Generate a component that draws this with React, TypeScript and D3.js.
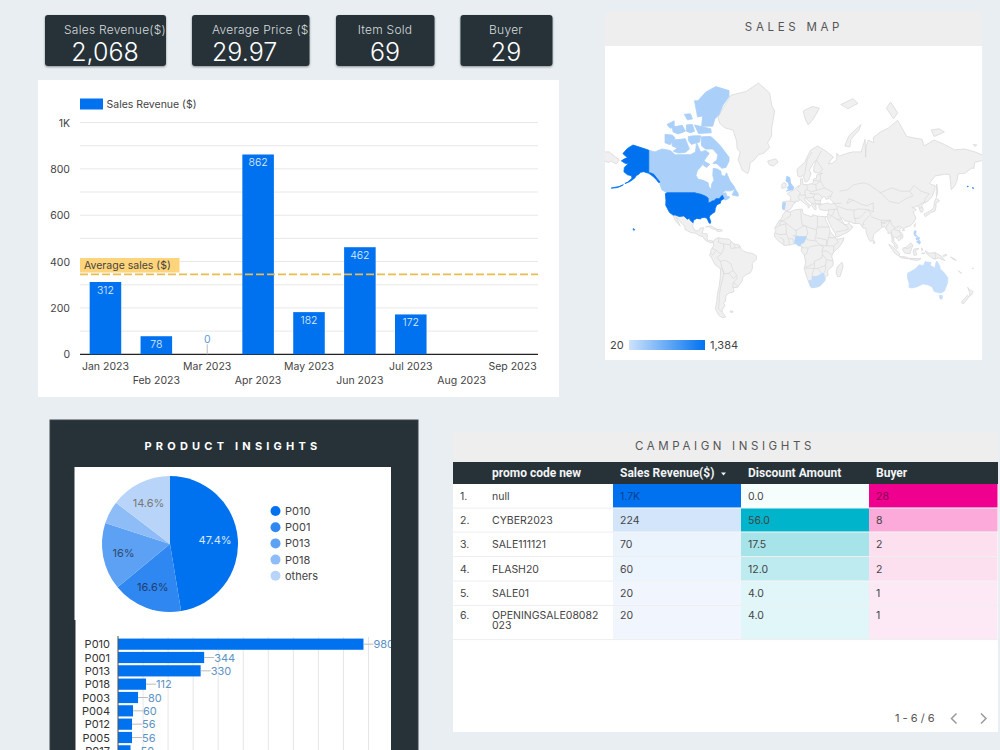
// Sales dashboard: KPI cards, monthly revenue, sales map, product insights, campaign table
import React from 'react';
import * as d3 from 'd3';

type LonLat = [number, number];

const FONT = 'Inter, "Noto Sans", sans-serif';
const BLUE = '#0072f0';
const DARK = '#263238';
const PAGE = '#e9eef2';

// KPI cards
const kpiTitles = ['Sales Revenue($)', 'Average Price ($)', 'Item Sold', 'Buyer'];
const kpiValues = ['2,068', '29.97', '69', '29'];

// monthly revenue
const months = ['Jan 2023', 'Feb 2023', 'Mar 2023', 'Apr 2023', 'May 2023', 'Jun 2023', 'Jul 2023', 'Aug 2023', 'Sep 2023'];
const monthRevenue: (number | null)[] = [312, 78, 0, 862, 182, 462, 172, null, null];
const averageSales = 344.67;

// products
const products = ['P010', 'P001', 'P013', 'P018', 'P003', 'P004', 'P012', 'P005', 'P017'];
const productRevenue = [980, 344, 330, 112, 80, 60, 56, 56, 50];
const pieLabels = ['P010', 'P001', 'P013', 'P018', 'others'];
const pieValues = [980, 344, 330, 112, 302];
const pieColors = ['#0072f0', '#2f87f1', '#5ca1f4', '#8dbcf7', '#b8d5f9'];

// campaign table
const promoCodes = ['null', 'CYBER2023', 'SALE111121', 'FLASH20', 'SALE01', 'OPENINGSALE08082023'];
const promoRevenue = [1674, 224, 70, 60, 20, 20];
const promoRevenueText = ['1.7K', '224', '70', '60', '20', '20'];
const promoDiscount = [0, 56, 17.5, 12, 4, 4];
const promoBuyers = [28, 8, 2, 2, 1, 1];

// map values per country
const countryRevenue: Record<string, number> = {
  usa: 1384, canada: 250, uk: 250, portugal: 200, nigeria: 170, southAfrica: 90, philippines: 200, australia: 70,
};

// map outlines, lon/lat
const alaska: LonLat[] = [[-141, 69.6], [-148, 70.4], [-156.5, 71.3], [-162, 70.2], [-166.5, 68.4], [-162, 66.8], [-165, 66.4], [-168, 65.6], [-164, 64.5], [-161, 64.6], [-165, 62.8], [-165.5, 60.8], [-162, 59.3], [-158, 58.8], [-157.5, 57.5], [-162, 55.3], [-164.5, 54.6], [-160, 55.6], [-155, 57.5], [-153, 59], [-151.5, 59.3], [-149, 60.5], [-146, 60.8], [-141, 60], [-137, 58.6], [-134, 57], [-131, 55], [-130, 55.5], [-133, 57.5], [-136, 59.5], [-139, 60.2], [-141, 60.3]];
const aleutians: LonLat[] = [[-178, 51.9], [-170, 52.9], [-166, 53.9], [-168, 53.2], [-172, 52.2]];
const attu: LonLat[] = [[172.5, 53], [173.6, 52.9], [173, 52.6]];
const kiska: LonLat[] = [[177.8, 52.2], [178.8, 51.9], [178, 51.7]];
const us48: LonLat[] = [[-124.7, 48.4], [-123, 49], [-95.2, 49], [-94.6, 48.7], [-89.6, 48], [-84.5, 46.5], [-82.5, 45.3], [-82.5, 42.8], [-83, 42], [-79, 42.8], [-79, 43.3], [-76.5, 43.6], [-75, 45], [-71.5, 45], [-70, 46.5], [-68.5, 47.3], [-67, 45], [-70, 43.7], [-70.5, 41.8], [-74, 40.6], [-75.5, 38], [-76, 35], [-78, 33.9], [-81, 32], [-81.4, 30.5], [-80, 26.8], [-80.5, 25.2], [-81.8, 26], [-82.8, 28], [-84, 30], [-86, 30.4], [-89, 30.3], [-90, 29.2], [-93.8, 29.7], [-97, 28], [-97.3, 26], [-99.5, 27.5], [-101.4, 29.8], [-103, 29], [-106.5, 31.8], [-111, 31.3], [-114.8, 32.5], [-117.1, 32.5], [-120.5, 34.5], [-122.5, 37.5], [-124.3, 40.3], [-124.1, 44]];
const hawaii: LonLat[] = [[-156.3, 20.6], [-154.9, 19.8], [-155.6, 18.9], [-156.2, 19.6]];
const canadaMain: LonLat[] = [[-141, 69.6], [-135, 69], [-128, 70], [-120, 69.5], [-115, 68], [-108, 68], [-100, 68], [-95, 69], [-94, 72], [-90, 69], [-85, 69.5], [-81.5, 68.5], [-86, 66], [-88, 64], [-93, 61.5], [-94.5, 59], [-92.5, 57], [-88, 56.5], [-82.5, 55], [-82, 52.9], [-79.5, 51.3], [-79, 54.5], [-76.8, 56.5], [-78, 59], [-77.5, 62.4], [-73, 62], [-70, 61], [-69.5, 59], [-66, 58.5], [-64.5, 60.3], [-61, 56], [-57, 53], [-56, 51.5], [-60, 50.2], [-66, 50.2], [-69, 48.5], [-65, 49], [-64.5, 47], [-61, 46], [-64, 44.5], [-66, 44], [-67, 45], [-68.5, 47.3], [-70, 46.5], [-71.5, 45], [-75, 45], [-76.5, 43.6], [-79, 43.3], [-79, 42.8], [-83, 42], [-82.5, 45.3], [-84.5, 46.5], [-89.6, 48], [-94.6, 48.7], [-95.2, 49], [-123, 49], [-128, 50.8], [-130, 54], [-130, 55.5], [-133, 57.5], [-136, 59.5], [-139, 60.2], [-141, 60.3]];
const baffin: LonLat[] = [[-80, 73.8], [-76, 72.8], [-71, 71.2], [-67, 69.5], [-62, 67], [-62, 65.5], [-65, 62.8], [-69, 62.4], [-74, 64.4], [-78, 64.6], [-74, 66], [-73, 68], [-78, 70], [-85, 70], [-89, 71], [-89.5, 73.7], [-85, 73.8]];
const victoria: LonLat[] = [[-118, 72.8], [-110, 73], [-105, 73.2], [-101, 70], [-105, 68.8], [-112, 68.6], [-117, 69.2], [-113, 70.3], [-118, 71]];
const banks: LonLat[] = [[-125, 74.4], [-118, 74.2], [-115, 73.4], [-120, 71.4], [-125, 72]];
const melville: LonLat[] = [[-118, 76.2], [-108, 76.6], [-105, 75.2], [-112, 74.5], [-117, 75]];
const princePatrick: LonLat[] = [[-123, 76.8], [-116, 77.6], [-116, 76.3], [-120, 75.9]];
const bathurst: LonLat[] = [[-104, 76.7], [-98, 76.8], [-96, 75.2], [-100, 74.8], [-104, 75.2]];
const princeOfWales: LonLat[] = [[-102, 73.8], [-97, 74], [-90, 74], [-91, 72.2], [-96, 71.8], [-99, 71.5], [-102, 72.6]];
const devon: LonLat[] = [[-96, 76.7], [-80, 75.8], [-79.5, 74.8], [-92, 74.6]];
const ellesmere: LonLat[] = [[-92, 81.3], [-85, 82.4], [-75, 83.1], [-62, 82.6], [-62, 81.8], [-68, 80.5], [-72, 78.8], [-76, 78], [-78, 76.4], [-89, 76.4], [-88, 78.5]];
const axelHeiberg: LonLat[] = [[-96, 81.2], [-90.5, 81.2], [-87.5, 80], [-88, 78.6], [-93, 78.4]];
const ringnes: LonLat[] = [[-106, 78.9], [-100, 79], [-98, 78], [-103, 77.8]];
const southampton: LonLat[] = [[-87, 65.5], [-81, 64.2], [-84, 62.8], [-87, 63.6]];
const newfoundland: LonLat[] = [[-59, 47.6], [-53, 46.7], [-53, 48.5], [-56, 51.5]];
const greenland: LonLat[] = [[-73, 78.3], [-68, 80], [-60, 82], [-45, 82.5], [-33, 83.5], [-22, 82.3], [-20, 80.5], [-17, 79.5], [-20, 76], [-20, 74], [-24, 72], [-22, 70.5], [-28, 68.5], [-33, 68], [-38, 65.6], [-41, 65], [-42, 62], [-43.5, 59.9], [-46, 60.6], [-49, 61.5], [-51, 64], [-53, 66], [-51, 69], [-54, 70], [-54.5, 72.5], [-58, 75.5], [-66, 76], [-71, 77]];
const iceland: LonLat[] = [[-24, 65.5], [-20, 66], [-16, 66.4], [-13.7, 65], [-18.5, 63.4], [-22.5, 64]];
const mexicoCentral: LonLat[] = [[-117.1, 32.5], [-114.8, 32.5], [-111, 31.3], [-106.5, 31.8], [-103, 29], [-101.4, 29.8], [-99.5, 27.5], [-97.3, 26], [-97.8, 22.5], [-95.5, 18.8], [-92, 18.6], [-90.5, 21], [-87, 21.5], [-88, 18], [-88.5, 15.9], [-84, 15.9], [-83.3, 14.8], [-83.7, 11], [-82.5, 9], [-80, 9.2], [-77.5, 8.5], [-78, 7.3], [-80.5, 7.3], [-83, 8.3], [-85.8, 10], [-87.5, 13], [-91.5, 14], [-94.5, 16.2], [-100, 17], [-105.5, 20], [-105.5, 22.5], [-109, 25.8], [-112.5, 29.5], [-114.5, 31.5], [-112, 26.5], [-110, 23], [-112, 24.8], [-115, 28]];
const cuba: LonLat[] = [[-85, 22], [-80, 23.2], [-74.2, 20.2], [-77.5, 19.9], [-82, 22.5]];
const hispaniola: LonLat[] = [[-74.4, 19.8], [-70, 19.8], [-68.4, 18.6], [-71.5, 17.8], [-74.4, 18.4]];
const southAmerica: LonLat[] = [[-77.5, 8.5], [-75.5, 10.8], [-72, 12], [-68, 11], [-62, 10.7], [-60, 8.5], [-57, 6], [-52, 5], [-50, 1], [-48, -1], [-44, -2.7], [-40, -3], [-35.2, -5.5], [-35, -9], [-39, -13], [-39, -17.8], [-41, -22], [-44.5, -23.2], [-48.5, -26], [-48.7, -28.5], [-52.5, -33], [-54, -34.8], [-57.5, -34.5], [-58.5, -34], [-57, -36.5], [-57.5, -38.2], [-62, -39], [-65, -41], [-65.5, -45], [-67.5, -46.5], [-65.8, -47.5], [-69, -51], [-68.3, -52.5], [-65, -54.8], [-68.5, -55.3], [-72, -54], [-75.5, -50], [-74, -45], [-73.5, -40], [-71.5, -33], [-70.5, -25], [-70.3, -18.3], [-76, -14], [-79, -8], [-81.2, -5], [-80, -2.5], [-80, 0.5], [-78.8, 1.5], [-77.3, 4]];
const falklands: LonLat[] = [[-61, -51.4], [-58, -51.4], [-58.5, -52.2], [-60.5, -52.2]];
const africa: LonLat[] = [[-6, 35.8], [-2, 35], [3, 36.8], [10, 37.3], [11, 33.5], [15, 32.3], [20, 31], [20, 32.8], [25, 31.7], [32, 31.2], [34.2, 31.3], [32.5, 30], [33.8, 27], [35.5, 24], [37, 21], [37.5, 18], [39.5, 15.5], [43, 12], [44, 10.5], [51.2, 11.8], [50, 8], [46, 2.5], [41, -2], [39, -6], [40.5, -11], [40.5, -15], [35, -20], [35.5, -24], [32.8, -26], [32, -29], [28, -33], [25, -34], [20, -34.8], [18.3, -34], [15, -27], [12, -18], [13.5, -12], [12, -5], [9, -1], [9.5, 3.5], [6, 4.3], [4, 6.3], [-2, 5], [-7.5, 4.4], [-13, 8.5], [-16.7, 12.5], [-17.4, 14.7], [-16, 19], [-17, 21], [-13, 27.5], [-10, 30], [-9, 33]];
const nigeria: LonLat[] = [[2.7, 6.4], [4, 6.3], [6, 4.3], [8.5, 4.6], [9, 6.5], [11.5, 7], [13.5, 11], [14, 13], [10, 13.2], [7, 13], [4, 13.7], [3.6, 11.7], [2.7, 9]];
const southAfrica: LonLat[] = [[17, -28.7], [20, -28.4], [20, -25], [23, -25.3], [26, -24.6], [29.4, -22.3], [31.3, -22.4], [32, -26], [32.8, -26.9], [32, -29], [28, -33], [25, -34], [20, -34.8], [18.3, -34], [16.5, -28.6]];
const madagascar: LonLat[] = [[49.3, -12], [50.4, -15.5], [47.5, -25], [45, -25.5], [43.4, -22], [44.5, -16.5]];
const eurasia: LonLat[] = [[-9, 43], [-9.5, 38.7], [-8.9, 37], [-6, 36.2], [-5.3, 36], [-2, 36.8], [0, 38.8], [0.5, 40.5], [3.2, 42], [3, 43.2], [6, 43.1], [8, 44.3], [10.3, 43], [12.5, 41.5], [15.8, 40], [16, 38], [17, 39], [18.4, 40], [16, 41.5], [13, 43.7], [12.3, 45.4], [13.7, 45.6], [15.5, 43.8], [19.3, 41.8], [19.5, 40.3], [21, 38.3], [23, 36.5], [24, 38], [22.8, 40.3], [26, 40.8], [28.9, 41], [27.8, 42.5], [28.6, 44.5], [30.8, 46.5], [33, 46], [33.5, 44.5], [36.5, 45.2], [35, 46.2], [38.5, 47], [37, 45], [39, 43.7], [41.5, 41.6], [38, 41], [35, 42], [31.5, 41.2], [29.1, 41], [26.5, 40], [26.5, 38.5], [27.5, 37], [30.5, 36.5], [33, 36], [36, 36.7], [35.8, 34.5], [34.5, 31.5], [34.9, 29.5], [36, 27.5], [39, 21.5], [42.5, 16.5], [43.3, 12.8], [45, 12.8], [52, 16], [55, 17.5], [58.8, 20.5], [59.8, 22.5], [56.5, 24.5], [56.3, 26.2], [54, 24.2], [51.5, 24.5], [50.2, 26.5], [48, 29.8], [50, 30], [52, 27.5], [56.5, 27], [61, 25.2], [66.5, 25.3], [68, 23.7], [70, 21], [72.7, 21], [73, 17], [74.5, 13], [76.3, 9.5], [77.5, 8], [79.8, 10.3], [80.3, 15], [82.5, 17], [86.5, 20], [88.5, 21.8], [91, 22.5], [92.3, 20.8], [94.3, 18], [94.5, 16], [97, 16.8], [98.5, 12], [98.3, 8], [100.5, 5.5], [101.3, 3], [103.5, 1.3], [104.2, 2.5], [103, 5.5], [100.5, 8], [100, 13], [101, 13], [102.5, 12], [105, 10], [105, 8.8], [106.7, 10.5], [109.2, 12], [109, 15], [106.5, 18], [105.8, 19.5], [108, 21.5], [110, 20.4], [110.5, 21.3], [114, 22.3], [117, 23.5], [120, 26.5], [122, 30], [120.5, 33], [119.3, 35], [122.5, 37], [118, 38.5], [121.5, 39], [124.3, 40], [125.2, 38], [126.5, 35], [128.5, 35], [129.4, 37], [127.5, 39.8], [130.5, 42.3], [133, 42.8], [138, 46.5], [140.5, 51], [141, 53.3], [137.5, 54], [135.3, 54.8], [141, 58.7], [150, 59.5], [155, 59.5], [155.8, 57], [156.7, 51], [160, 53], [162.5, 56.2], [163.3, 59.8], [170, 60], [177, 62.5], [179, 62.3], [180, 65], [190, 66], [190, 67.5], [180, 69], [170, 70], [160, 69.7], [150, 71.5], [140, 72.8], [130, 71], [128, 73], [113, 73.8], [104, 77.7], [95, 76], [87, 75], [80, 73.5], [80.5, 72], [75, 72.8], [73, 71], [72.5, 67], [72, 73], [68, 69], [60, 69], [54, 68.5], [47, 67.5], [44, 68.5], [44, 66], [40, 64.7], [36, 64.3], [38, 66], [41, 67], [33, 69.4], [25, 71], [18, 69.5], [12.5, 65], [5, 62], [5.5, 58.8], [8, 58], [11, 59], [12.8, 55.5], [14.3, 55.5], [16.5, 56.5], [18.8, 60], [17, 61.5], [21.5, 65], [24, 65.8], [21.5, 63], [21.5, 60.7], [25, 60.2], [30, 60], [24.5, 59.3], [24, 57.5], [21, 57], [21, 55.3], [19, 54.4], [14.2, 54], [11, 54], [10, 57.5], [8.2, 57], [8.7, 54], [4.5, 52.5], [1.8, 50.9], [-1.5, 49.7], [-4.7, 48.5], [-1.2, 46], [-1.7, 43.4]];
const chukotkaWest: LonLat[] = [[-186, 69], [-180, 69], [-175, 67.5], [-170, 66], [-173, 64.3], [-178, 65.5], [-180, 65], [-186, 65.5]];
const portugal: LonLat[] = [[-8.8, 42], [-6.3, 42], [-6.9, 39.5], [-7.4, 37.2], [-8.9, 37], [-9.5, 38.7]];
const britain: LonLat[] = [[-5, 58.6], [-2, 57.7], [-1.5, 55], [0.3, 53.5], [1.7, 52.5], [1, 51], [-5.5, 50], [-3, 51.5], [-5, 52], [-3, 53.4], [-3.5, 55], [-6, 56]];
const ireland: LonLat[] = [[-8, 55.2], [-5.6, 54.5], [-6.2, 52.2], [-10, 51.7], [-10, 54]];
const svalbard: LonLat[] = [[11, 79.5], [20, 80.3], [27, 80], [21, 78], [16, 76.7], [13, 78]];
const franzJosef: LonLat[] = [[48, 80.6], [60, 81.5], [65, 80.8], [55, 79.9]];
const novayaZemlya: LonLat[] = [[52, 71], [56, 74], [68, 76.8], [66, 75.5], [58, 73], [57, 70.7]];
const severnaya: LonLat[] = [[93, 80], [97, 81], [104, 79.2], [100, 78]];
const newSiberian: LonLat[] = [[137, 75.5], [145, 75.8], [150, 75], [140, 73.8]];
const wrangel: LonLat[] = [[178.5, 71.5], [182, 71.3], [180, 70.8]];
const japan: LonLat[] = [[141.8, 45.4], [145.3, 43.5], [141.5, 41.5], [141.9, 39.5], [140.8, 35.7], [136.8, 34.5], [135.5, 33.6], [131, 31.2], [130, 33.4], [135.5, 35.6], [139.5, 38.2], [140, 41], [140.5, 43]];
const sakhalin: LonLat[] = [[142.5, 54.3], [143.5, 49.5], [142.2, 46], [142, 50]];
const taiwan: LonLat[] = [[121.5, 25.2], [121, 22], [120.1, 23.5]];
const hainan: LonLat[] = [[110.5, 20], [110.7, 18.8], [108.8, 18.5], [108.8, 19.5]];
const sriLanka: LonLat[] = [[80, 9.7], [81.8, 7.5], [80.5, 6], [79.8, 7.5]];
const sumatra: LonLat[] = [[95.3, 5.6], [98, 4], [103.8, -1], [106, -3.5], [105.5, -5.8], [102, -4], [98.5, 0.5]];
const java: LonLat[] = [[105.5, -6.5], [110.5, -6.5], [114.4, -7.8], [114.4, -8.7], [108, -7.8]];
const lesserSunda: LonLat[] = [[115, -8.2], [119, -8.3], [123, -8.3], [125, -8.6], [127, -8.4], [124, -10.2], [120, -9.8], [116, -9]];
const borneo: LonLat[] = [[109, 1.5], [113, 3.2], [116.8, 7], [119, 5], [117.6, 1], [116, -3.8], [111, -3], [109.2, -0.5]];
const sulawesi: LonLat[] = [[120, 1], [125, 1.5], [121.5, -0.8], [123, -4.5], [120.3, -5.5], [119.3, -2]];
const halmahera: LonLat[] = [[127.5, 2], [128.8, 1], [128, -0.8], [127.4, 0.5]];
const ceram: LonLat[] = [[127.5, -3.1], [130.8, -3], [129.5, -3.6], [127.8, -3.6]];
const newGuinea: LonLat[] = [[131, -0.8], [135, -3.2], [141, -2.6], [147, -6], [150.5, -10.4], [144, -7.8], [141, -9], [138, -8], [133, -4]];
const newBritain: LonLat[] = [[148.5, -5.6], [152, -4.2], [152, -5.5], [149, -6.3]];
const solomons: LonLat[] = [[156, -6.8], [160, -8.6], [161.5, -10.2], [159, -9.3]];
const newCaledonia: LonLat[] = [[164, -20], [167, -22.3], [166, -22.2]];
const fiji: LonLat[] = [[177.3, -17.5], [178.6, -17.7], [178, -18.3]];
const luzon: LonLat[] = [[120.6, 18.5], [122.2, 18.4], [121.7, 15], [124, 13], [121, 13.7], [120, 16]];
const mindanao: LonLat[] = [[122.5, 8], [125.4, 9.6], [126.5, 7.5], [125.5, 5.7], [123.5, 7.4]];
const visayas: LonLat[] = [[122, 11.7], [125.5, 12.4], [125, 10.2], [122.8, 9.7]];
const australia: LonLat[] = [[114, -22], [113.5, -26], [115.5, -31.5], [115, -34.3], [118, -35], [123.5, -33.9], [129, -31.6], [134, -32.5], [138, -34], [140, -37.8], [146.5, -39], [150, -37.5], [153, -31], [153.5, -26.5], [149, -21], [146, -18.5], [145.2, -15], [142.5, -10.8], [141.5, -13], [140.8, -17.5], [136, -15], [136.8, -12.2], [131, -11.5], [129.5, -15], [125, -14.5], [122, -18], [117, -20.7]];
const tasmania: LonLat[] = [[144.8, -40.8], [148.2, -40.9], [147.8, -43.3], [146, -43.5]];
const nzNorth: LonLat[] = [[173, -34.5], [175.5, -36.8], [178.4, -37.8], [176.5, -40.5], [175, -41.5], [174.8, -38.5]];
const nzSouth: LonLat[] = [[172.7, -40.6], [174.2, -41.7], [171, -45], [169, -46.7], [166.5, -45.9], [170, -43]];

const grayLand: LonLat[][] = [greenland, iceland, mexicoCentral, cuba, hispaniola, southAmerica, falklands, africa, madagascar, eurasia, chukotkaWest, ireland, svalbard, franzJosef, novayaZemlya, severnaya, newSiberian, wrangel, japan, sakhalin, taiwan, hainan, sriLanka, sumatra, java, lesserSunda, borneo, sulawesi, halmahera, ceram, newGuinea, newBritain, solomons, newCaledonia, fiji, nzNorth, nzSouth];
const soldLand: [string, LonLat[]][] = [
  ['canada', canadaMain], ['canada', baffin], ['canada', victoria], ['canada', banks], ['canada', melville], ['canada', princePatrick], ['canada', bathurst], ['canada', princeOfWales], ['canada', devon], ['canada', ellesmere], ['canada', axelHeiberg], ['canada', ringnes], ['canada', southampton], ['canada', newfoundland],
  ['usa', alaska], ['usa', aleutians], ['usa', attu], ['usa', kiska], ['usa', us48], ['usa', hawaii], ['uk', britain], ['portugal', portugal], ['nigeria', nigeria], ['southAfrica', southAfrica],
  ['philippines', luzon], ['philippines', visayas], ['philippines', mindanao], ['australia', australia], ['australia', tasmania],
];
// country borders inside the gray land
const borders: LonLat[][] = [
  // South America
  [[-72, 12], [-72.5, 7.5], [-67.5, 6], [-67, 1.5], [-70, -4.2]], [[-67.5, 6], [-61, 5], [-60, 8.5]], [[-61, 5], [-60, 1.5], [-56, 2], [-52, 2.3], [-51.5, 4.2]], [[-57, 6], [-56, 2]], [[-78.8, 1.5], [-75, 0], [-70, -4.2], [-74, -7.5], [-70.5, -11], [-69, -17]], [[-80, -3.4], [-78, -5], [-75, -1]],
  [[-70.5, -11], [-65.5, -10], [-60, -13.5], [-58, -19.8], [-62, -22.2], [-67, -22.8], [-69, -17], [-70.3, -18.3]], [[-58, -19.8], [-54.5, -24], [-57.5, -27.3], [-62, -22.2]], [[-54.5, -24], [-54, -27], [-57.5, -30.2], [-58.5, -34]], [[-53.5, -33.7], [-57.5, -30.2]], [[-69, -17.5], [-67, -22.8], [-70, -33], [-71.5, -40], [-71.8, -46], [-72.5, -50], [-69, -52]],
  // Africa
  [[-1.7, 35], [-1.3, 32], [-8.7, 27.7], [-13, 27.7]], [[-8.7, 27.7], [3, 19], [4.2, 19]], [[-8.7, 27.7], [-12, 26], [-12, 23.5], [-17, 21]], [[-12, 23.5], [-6, 25], [-5.5, 15.5], [-12, 15], [-16.5, 16.3]], [[8.5, 36.9], [9, 30], [10, 24], [14, 22.5], [24, 19.5], [25, 22], [25, 31.7]], [[3, 19], [4.2, 19], [12, 23.5], [14, 22.5], [15.5, 16.5], [14, 13]], [[4, 13.7], [4.2, 19]], [[25, 22], [36.8, 22]], [[24, 19.5], [24, 15.5], [22.5, 11], [24, 8.7], [15, 10], [14, 13]], [[24, 8.7], [27.5, 5], [34, 4], [36, 12], [37.5, 18]], [[24, 12], [34, 10], [34, 4]], [[34, 4], [41, 4], [41, -2]], [[41, 4], [46, 8], [43, 10.5]], [[36, 12], [43, 12]],
  [[-5.5, 15.5], [-3, 10], [-2.7, 5]], [[-12, 12.5], [-8, 10], [-8, 4.5]], [[-3, 11], [1, 11], [1.5, 6.2]], [[3.6, 11.7], [1, 14.5], [4, 13.7]], [[9.5, 3.5], [9.5, 2.2], [16, 2], [18.5, 3.5], [27.5, 5]], [[16, 2], [14, -4.5], [12, -5]], [[29.5, -1], [30, -4.5], [29, -8], [22, -11], [22, -13], [13.5, -17]], [[29.5, -1], [31, 3], [27.5, 5]], [[34, -1], [30, -1]], [[39, -4.7], [34, -1]], [[30, -4.5], [34, -9.5], [40.5, -10.8]], [[22, -13], [22, -18], [25, -17.8], [33, -15], [34, -9.5]], [[25, -17.8], [29.4, -22.3]], [[12, -17.3], [22, -18], [20, -22], [20, -28.4]], [[33, -15], [33, -19], [31.3, -22.4]],
  // Europe
  [[-1.7, 43.4], [3.2, 42.4]], [[-6.3, 42], [-9, 42]], [[4.5, 51.3], [8, 49], [7.5, 47.5], [6, 46], [7.5, 44]], [[7.5, 47.5], [13, 47.5], [13.7, 45.6]], [[6.5, 51.8], [7, 53.5]], [[14.5, 54], [15, 51], [12.5, 50.3], [13, 47.5]], [[15, 51], [19, 49.5], [24, 50.5], [23.5, 54], [19, 54.4]], [[16.9, 48.6], [22.5, 48.2], [26.5, 48.3], [30, 46]], [[22.5, 48.2], [21, 46], [22.5, 44], [28.6, 43.7]], [[13.7, 45.6], [18, 46], [21, 46]], [[22.5, 44], [22.5, 41.2], [26.5, 41.5]], [[19.3, 41.8], [22.5, 41.2]], [[24, 50.5], [32, 52], [40, 49.5], [38.5, 47]], [[23.5, 54], [28, 56], [28, 59.5]], [[32, 52], [28, 56]], [[21, 56.3], [28, 56]], [[12, 59], [13, 61], [15, 66], [20, 69]], [[24, 65.8], [29, 69.5]], [[24, 66], [30, 62], [28, 60.5]],
  // Middle East, Asia
  [[26.5, 41.5], [28, 41.3]], [[36, 36.7], [42, 37.2], [44.5, 37.5], [44, 39.5], [41.5, 41.6]], [[48.5, 41.7], [41.5, 41.6]], [[42, 37.2], [41, 34.5], [39, 32], [36, 33]], [[44.5, 37.5], [46, 33], [48, 30]], [[36.5, 29.5], [39, 32], [44, 29], [48, 29]], [[44, 29], [55, 22], [55.5, 20], [52, 19], [43.5, 17.5]], [[44.5, 39.5], [48.5, 38.5], [54, 37], [61, 36.5], [61, 31.5], [63, 27], [61.5, 25]], [[61, 36.5], [66, 37.5], [74.5, 37], [70, 33], [66.5, 30], [61, 29.5]], [[74.5, 37], [78, 33], [74, 30], [70, 26], [71, 24], [68, 23.7]], [[54, 41.5], [60, 44], [68, 41], [74, 40], [80, 42]], [[47, 50], [55, 51], [61, 54], [71, 55], [76, 54], [87, 49]], [[54, 41.5], [56, 45], [60, 44]], [[87, 49], [98, 52], [107, 50], [116, 50], [120, 53.5], [127, 50], [135, 48.3], [131, 45], [130.5, 42.3]], [[87, 49], [96, 43], [105, 41.7], [112, 45], [119, 47], [116, 50]], [[80, 42], [80, 35], [74.5, 37]], [[78, 31], [88, 28], [97, 28], [98, 24], [101.5, 21.5], [106, 23], [108, 21.5]], [[88, 28], [88, 26], [92, 26.5], [97, 28]], [[88.5, 21.8], [88, 26], [92, 25]], [[92.3, 20.8], [94, 24], [97, 28]], [[101.5, 21.5], [100, 20], [97.5, 18], [98.5, 15], [98.5, 12]], [[100, 20], [105, 18.5], [107.5, 15], [107, 11]], [[102.5, 12], [107, 14.5]], [[124.3, 40], [128, 42], [130.5, 42.3]], [[125, 38], [128.5, 38.4]], [[141, -2.6], [141, -9]], [[109.8, 2], [114, 1.5], [117.5, 4.2]],
];

const project = ([lon, lat]: LonLat): LonLat => {
  const [mx, my] = d3.geoMercatorRaw((lon * Math.PI) / 180, (lat * Math.PI) / 180);
  return [792 + 58.2 * mx, 250 - 58.2 * my];
};
const geoLine = d3.line<LonLat>().x(d => project(d)[0]).y(d => project(d)[1]);
const ringPath = (ring: LonLat[]) => `${geoLine(ring)}Z`;

const mapColor = d3.scaleLinear<string>().domain([20, 1384]).range(['#cde2fb', BLUE]);
const revenueColor = d3.scaleLinear<string>().domain([20, 70, 224, 1674]).range(['#f1f6fe', '#ebf3fd', '#d3e5fb', BLUE]);
const discountColor = d3.scaleLinear<string>().domain([0, 4, 12, 17.5, 56]).range(['#f5fdfd', '#e0f6f9', '#bdebf0', '#a7e4ea', '#00b4cb']);
const buyerColor = d3.scaleLinear<string>().domain([1, 2, 8, 28]).range(['#fce9f5', '#fce0f0', '#fbaad9', '#f0008f']);

const Cards = () => {
  const left = [45, 192, 336, 460.5];
  const right = [166, 309.5, 434.5, 552.5];
  const titleX = [115, 212, 385, 506];
  const valueX = [105, 212, 385, 506];
  return (
    <g fontFamily={FONT}>
      {kpiTitles.map((title, i) => {
        const anchor = i === 1 ? 'start' : 'middle';
        return (
          <g key={title}>
            <clipPath id={`card-${i}`}><rect x={left[i]} y={15} width={right[i] - left[i]} height={51} /></clipPath>
            <rect x={left[i]} y={15} width={right[i] - left[i]} height={51} rx={3} fill={DARK} filter="url(#cardShadow)" />
            <g clipPath={`url(#card-${i})`}>
              <text x={titleX[i]} y={34} fontSize={12} fontWeight={300} letterSpacing={0.25} fill="#d5dadc" textAnchor={anchor}>{title}</text>
              <text x={valueX[i]} y={61} fontSize={25} fontWeight={300} fill="#fff" textAnchor={anchor}>{kpiValues[i]}</text>
            </g>
          </g>
        );
      })}
    </g>
  );
};

const RevenueChart = () => {
  const x = d3.scaleBand<string>().domain(months).range([80, 538]).paddingInner(0.38).paddingOuter(0.19);
  const y = d3.scaleLinear().domain([0, 1000]).range([354.3, 122.5]);
  return (
    <g fontFamily={FONT} fontSize={10.5}>
      <rect x={38} y={80} width={521} height={317} fill="#fff" />
      <rect x={80} y={98.5} width={23} height={11} fill={BLUE} />
      <text x={106.5} y={108} fill="#444">Sales Revenue ($)</text>
      {d3.range(0, 1001, 100).map(t => (
        <line key={t} x1={80} x2={538} y1={y(t)} y2={y(t)} stroke={t === 0 ? '#222' : '#e8e8e8'} strokeWidth={t === 0 ? 1.2 : 1} />
      ))}
      {d3.range(0, 1001, 200).map(t => (
        <text key={t} x={70} y={y(t) + 4} textAnchor="end" fill="#444">{t === 1000 ? '1K' : t}</text>
      ))}
      {months.map((m, i) => {
        const v = monthRevenue[i];
        const cx = x(m)! + x.bandwidth() / 2;
        return (
          <g key={m}>
            {v !== null && v > 0 && (
              <>
                <rect x={x(m)} y={y(v)} width={x.bandwidth()} height={y(0) - y(v)} fill={BLUE} />
                <text x={cx} y={y(v) + 12} textAnchor="middle" fontWeight={300} fill="#e3effd">{v}</text>
              </>
            )}
            {v === 0 && (
              <>
                <line x1={cx} x2={cx} y1={y(0)} y2={y(0) - 10} stroke="#bbb" />
                <text x={cx} y={y(0) - 11.5} textAnchor="middle" fill="#5c9bd8">{v}</text>
              </>
            )}
            <text x={cx} y={i % 2 === 0 ? 370 : 384} textAnchor="middle" fill="#444">{m}</text>
          </g>
        );
      })}
      <rect x={80} y={258} width={99.5} height={14.5} fill="#ffd47a" />
      <text x={84} y={269} fill="#444">Average sales ($)</text>
      <line x1={80} x2={538} y1={y(averageSales)} y2={y(averageSales)} stroke="#e9bd50" strokeWidth={1.6} strokeDasharray="8 3" />
    </g>
  );
};

const SalesMap = () => {
  const gradientStops = mapColor.domain();
  return (
    <g fontFamily={FONT}>
      <rect x={605} y={12} width={377} height={34} fill="#eeeeee" />
      <text x={794} y={30.5} textAnchor="middle" fontSize={11.5} letterSpacing={3.7} fill="#555">SALES MAP</text>
      <rect x={605} y={46} width={377} height={314} fill="#fff" />
      <clipPath id="mapClip"><rect x={605} y={46} width={377} height={314} /></clipPath>
      <g clipPath="url(#mapClip)" strokeLinejoin="round">
        {grayLand.map((ring, i) => (
          <path key={i} d={ringPath(ring)} fill="#f0f0f0" stroke="#d9d9d9" strokeWidth={0.8} />
        ))}
        {borders.map((line, i) => (
          <path key={i} d={geoLine(line)!} fill="none" stroke="#d9d9d9" strokeWidth={0.7} />
        ))}
        {soldLand.map(([country, ring], i) => {
          const color = mapColor(countryRevenue[country]);
          return <path key={i} d={ringPath(ring)} fill={color} stroke={color} strokeWidth={0.8} />;
        })}
      </g>
      <linearGradient id="mapLegend">
        {gradientStops.map((v, i) => <stop key={v} offset={i} stopColor={mapColor(v)} />)}
      </linearGradient>
      <rect x={629} y={340} width={76} height={10} fill="url(#mapLegend)" />
      <text x={610} y={349} fontSize={11} fill="#444">{gradientStops[0]}</text>
      <text x={710} y={349} fontSize={11} fill="#444">{d3.format(',')(gradientStops[1])}</text>
    </g>
  );
};

const ProductInsights = () => {
  const cx = 170;
  const cy = 544;
  const r = 68;
  const slices = d3.pie<number>().sort(null)(pieValues);
  const arc = d3.arc<d3.PieArcDatum<number>>().innerRadius(0).outerRadius(r);
  const labelArc = d3.arc<d3.PieArcDatum<number>>().innerRadius(r * 0.68).outerRadius(r * 0.68);
  const total = d3.sum(pieValues);
  const labelFill = ['#dbe9fb', '#20406e', '#2d4a70', '', '#777'];

  const x = d3.scaleLinear().domain([0, 1000]).range([118, 368.5]);
  const y = d3.scaleBand<string>().domain(products).range([637.5, 757.5]).paddingInner(0.16).paddingOuter(0.08);

  return (
    <g fontFamily={FONT}>
      <rect x={50} y={420} width={368} height={340} fill={DARK} stroke="#3a454b" />
      <text x={233} y={450} textAnchor="middle" fontSize={11} fontWeight={700} letterSpacing={4.2} fill="#fff">PRODUCT INSIGHTS</text>
      <rect x={74.5} y={467} width={316.5} height={153} fill="#fff" />
      <rect x={75.5} y={620} width={315.5} height={130} fill="#fff" />
      <g transform={`translate(${cx},${cy})`} fontSize={11}>
        {slices.map((s, i) => <path key={i} d={arc(s)!} fill={pieColors[i]} />)}
        {slices.map((s, i) => {
          if (i === 3) return null;
          const [lx, ly] = labelArc.centroid(s);
          return <text key={i} x={lx - 1} y={ly + 4} textAnchor="middle" fill={labelFill[i]}>{d3.format('.3~r')((s.value / total) * 100)}%</text>;
        })}
      </g>
      {pieLabels.map((label, i) => (
        <g key={label}>
          <circle cx={275.5} cy={511 + i * 16.2} r={5} fill={pieColors[i]} />
          <text x={285} y={515 + i * 16.2} fontSize={11} fill="#444">{label}</text>
        </g>
      ))}
      <clipPath id="barClip"><rect x={75.5} y={620} width={315.5} height={130} /></clipPath>
      <g clipPath="url(#barClip)">
        {d3.range(0, 1001, 100).map(t => (
          <line key={t} x1={x(t)} x2={x(t)} y1={637} y2={750} stroke="#e6e6e6" />
        ))}
        {products.map((p, i) => {
          const v = productRevenue[i];
          const cyBar = y(p)! + y.bandwidth() / 2;
          return (
            <g key={p} fontSize={11}>
              <text x={110} y={cyBar + 4} textAnchor="end" fill="#333">{p}</text>
              <rect x={x(0)} y={y(p)} width={x(v) - x(0)} height={y.bandwidth()} fill={BLUE} />
              <line x1={x(v)} x2={x(v) + 10} y1={cyBar} y2={cyBar} stroke="#bbb" />
              <text x={x(v) + 10} y={cyBar + 4} fill="#5c92c4">{v}</text>
            </g>
          );
        })}
      </g>
      <line x1={118} x2={118} y1={636} y2={750} stroke="#555" />
    </g>
  );
};

const CampaignTable = () => {
  const rowEdges = [484, 508.5, 532.5, 557, 581.5, 606, 640];
  const colX = [613, 741, 869];
  const colW = 128.5;
  const cells = (i: number) => [
    { text: promoRevenueText[i], fill: revenueColor(promoRevenue[i]) },
    { text: promoDiscount[i].toFixed(1), fill: discountColor(promoDiscount[i]) },
    { text: String(promoBuyers[i]), fill: buyerColor(promoBuyers[i]) },
  ];
  const firstRowText = ['#06408a', '', '#8a0055'];
  return (
    <g fontFamily={FONT} fontSize={10.5}>
      <rect x={453} y={432} width={545} height={30} fill="#eeeeee" />
      <text x={725} y={450} textAnchor="middle" fontSize={11.5} letterSpacing={3.6} fill="#555">CAMPAIGN INSIGHTS</text>
      <rect x={453} y={484} width={545} height={248} fill="#fff" />
      <rect x={453} y={462} width={545} height={22} fill={DARK} />
      <g fontFamily="Roboto, sans-serif" fontWeight={700} fontSize={12} fill="#f2f4f5">
        <text x={492} y={477}>promo code new</text>
        <text x={620} y={477}>Sales Revenue($)</text>
        <path d={d3.line()([[721, 472.5], [726, 472.5], [723.5, 475.5]])!} fill="#f2f4f5" />
        <text x={748} y={477}>Discount Amount</text>
        <text x={876} y={477}>Buyer</text>
      </g>
      {promoCodes.map((code, i) => {
        const top = rowEdges[i];
        const h = rowEdges[i + 1] - top;
        const tall = code.length > 16;
        const textY = top + (tall ? 13 : h / 2 + 3.5);
        return (
          <g key={code}>
            {cells(i).map((c, j) => (
              <g key={j}>
                <rect x={colX[j]} y={top} width={colW} height={h - 0.8} fill={c.fill} />
                <text x={colX[j] + 7} y={textY} fill={i === 0 && firstRowText[j] ? firstRowText[j] : '#444'}>{c.text}</text>
              </g>
            ))}
            <line x1={453} x2={998} y1={top + h - 0.4} y2={top + h - 0.4} stroke="#eeeeee" />
            <text x={460} y={textY} fill="#444">{i + 1}.</text>
            <text x={492} y={textY} fill="#444">{tall ? code.slice(0, 16) : code}</text>
            {tall && <text x={492} y={textY + 10} fill="#444">{code.slice(16)}</text>}
          </g>
        );
      })}
      <text x={895} y={722} fontSize={11} fill="#555">1 - 6 / 6</text>
      <path d="M956.5 713.5 L951.5 718.5 L956.5 723.5" fill="none" stroke="#9a9a9a" strokeWidth={1.5} />
      <path d="M981 713.5 L986 718.5 L981 723.5" fill="none" stroke="#9a9a9a" strokeWidth={1.5} />
    </g>
  );
};

export default function App() {
  return (
    <svg width={1000} height={750} viewBox="0 0 1000 750" style={{ position: 'absolute', left: 0, top: 0, display: 'block' }}>
      <defs>
        <filter id="cardShadow" x="-10%" y="-20%" width="120%" height="150%">
          <feDropShadow dx={0} dy={1} stdDeviation={1.2} floodColor="#000" floodOpacity={0.4} />
        </filter>
      </defs>
      <rect width={1000} height={750} fill={PAGE} />
      <Cards />
      <RevenueChart />
      <SalesMap />
      <ProductInsights />
      <CampaignTable />
    </svg>
  );
}
